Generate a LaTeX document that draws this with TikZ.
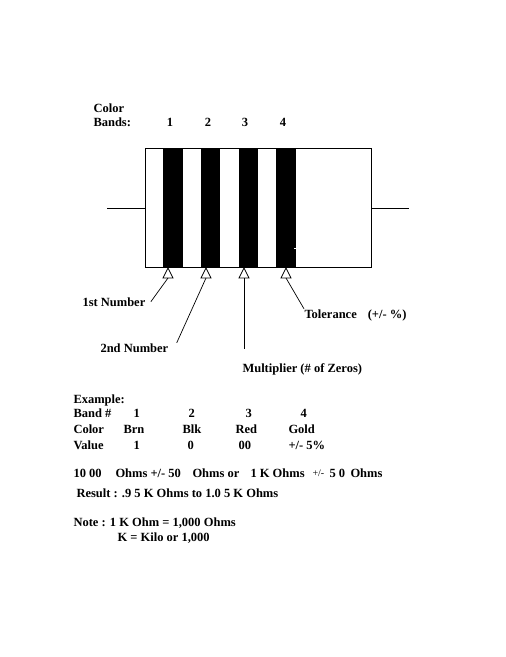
\documentclass[tikz,border=0pt]{standalone}
\usepackage{fontspec}
\setmainfont{Liberation Serif}
\usetikzlibrary{positioning}

\tikzset{
  lbl/.style={inner sep=0pt, anchor=base west, font=\fontsize{12.5}{15}\selectfont\bfseries},
  small/.style={inner sep=0pt, anchor=base west, font=\fontsize{10}{12}\selectfont},
  tri/.style={draw, fill=white, line width=0.8pt},
  leader/.style={line width=0.7pt},
}

\begin{document}
\begin{tikzpicture}[x=1pt,y=-1pt,line width=1pt]
        \useasboundingbox (0,0) rectangle (506,657);

        % Bands
        \foreach \x/\w in {163/20,201/19,239/19,276/20}
            \fill (\x,148) rectangle ++(\w,119);
        \draw[white] (294,248) -- (297,248);

        % Body and leads
        \node[draw, minimum width=226pt, minimum height=119pt, inner sep=0pt, anchor=north west] (body) at (145,148) {};
        \coordinate (lead1) at (107,208);
        \coordinate (lead2) at (409,208);
        \draw (lead1) -- (body.west);
        \draw (body.east) -- (lead2);

        % Band numbers
        \node[lbl] (colorlbl) at (93,112) {Color};
        \node[lbl] (bandslbl) at (93,126) {Bands:};
        \foreach \n/\x in {1/170,2/208,3/245,4/283}
            \node[lbl, anchor=base] (num\n) at (\x,126) {\n};

        % Triangles
        \foreach \n/\x in {1/168,2/206,3/244,4/286} {
            \coordinate (t\n) at (\x,268);
            \coordinate (b\n) at (\x,278);
            \draw[tri] (t\n) -- ++(-5,10) -- ++(10,0) -- cycle;
        }

        % Labels
        \node[lbl] (first) at (82,306) {1st Number};
        \node[lbl] (second) at (100,352) {2nd Number};
        \node[lbl] (mult) at (242,372) {Multiplier (\# of Zeros)};
        \node[lbl] (tol) at (304,318) {Tolerance\hspace{11pt}(+/- \%)};

        % Leader lines
        \draw[leader] (b1) -- ([xshift=5pt]first.east);
        \draw[leader] (b2) -- ([xshift=8pt]second.north east);
        \draw[leader] (b3) -- ([yshift=14pt]b3 |- mult.north);
        \draw[leader] (b4) -- (tol.north west);

        % Example
        \node[lbl] (example) at (73,403) {Example:};
        \node[lbl] (bandrow) at (73,417) {Band \#};
        \node[lbl] (colorrow) at (73,433) {Color};
        \node[lbl] (valuerow) at (73,449) {Value};
        \foreach \n/\x in {1/133,2/188,3/245,4/300}
            \node[lbl] (bn\n) at (\x,417) {\n};
        \node[lbl] (brn) at (123,433) {Brn};
        \node[lbl] (blk) at (182,433) {Blk};
        \node[lbl] (red) at (235,433) {Red};
        \node[lbl] (gold) at (288,433) {Gold};
        \node[lbl] (v1) at (133,449) {1};
        \node[lbl] (v2) at (187,449) {0};
        \node[lbl] (v3) at (238,449) {00};
        \node[lbl] (v4) at (288,449) {+/- 5\%};

        % Result
        \node[lbl] (o1) at (73,477) {10 00};
        \node[lbl] (o2) at (115,477) {Ohms +/- 50};
        \node[lbl] (o3) at (192,477) {Ohms or};
        \node[lbl] (o4) at (250,477) {1 K Ohms};
        \node[small] (o5) at (312,476) {+/-};
        \node[lbl] (o6) at (329,477) {5 0};
        \node[lbl] (o7) at (350,477) {Ohms};
        \node[lbl] (result) at (76,497) {Result : .9 5 K Ohms to 1.0 5 K Ohms};

        % Note
        \node[lbl] (note) at (73,526) {Note : 1 K Ohm = 1,000 Ohms};
        \node[lbl] (kilo) at (117,541) {K = Kilo or 1,000};
\end{tikzpicture}
\end{document}
